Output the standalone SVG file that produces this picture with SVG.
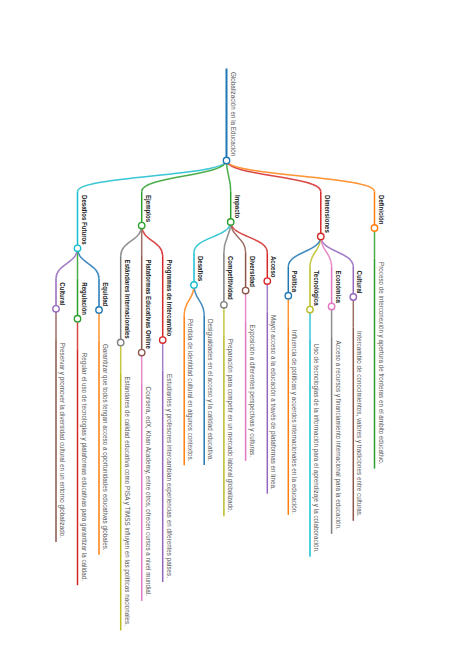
<svg xmlns="http://www.w3.org/2000/svg" width="474" height="669" viewBox="0 0 474 669">
<style>
.lk{fill:none;stroke-width:1.5}
.ln{stroke-width:1.5;fill:none}
.c{fill:#fff;stroke-width:1.4}
.t{font-family:"Liberation Sans",Arial,sans-serif;font-size:6.3px;fill:#555}
.b{font-family:"Liberation Sans",Arial,sans-serif;font-size:6.1px;font-weight:bold;fill:#222}
.k0{stroke:#1f77b4}.k1{stroke:#ff7f0e}.k2{stroke:#2ca02c}.k3{stroke:#d62728}.k4{stroke:#9467bd}
.k5{stroke:#8c564b}.k6{stroke:#e377c2}.k7{stroke:#7f7f7f}.k8{stroke:#bcbd22}.k9{stroke:#17becf}
</style>
<rect width="474" height="669" fill="#fff"/>
<g id="connectors" opacity="0.85">
<path class="lk k9" d="M226.5,160.5 C226.5,176 77.5,176 77.5,191.5"/>
<path class="lk k2" d="M226.5,160.5 C226.5,176 141.7,176 141.7,191.5"/>
<path class="lk k2" d="M226.5,160.5 C226.5,176 230.7,176 230.7,191.5"/>
<path class="lk k3" d="M226.5,160.5 C226.5,176 320.8,176 320.8,191.5"/>
<path class="lk k1" d="M226.5,160.5 C226.5,176 374.5,176 374.5,191.5"/>
<path class="lk k2" d="M374.5,228 L374.5,258.5"/>
<path class="lk k4" d="M320.8,236.5 C320.8,251.75 353.3,251.75 353.3,267"/>
<path class="lk k6" d="M320.8,236.5 C320.8,251.75 331.6,251.75 331.6,267"/>
<path class="lk k8" d="M320.8,236.5 C320.8,251.75 310,251.75 310,267"/>
<path class="lk k0" d="M320.8,236.5 C320.8,251.75 288.3,251.75 288.3,267"/>
<path class="lk k5" d="M353.3,297 L353.3,327.5"/>
<path class="lk k7" d="M331.6,306.5 L331.6,337"/>
<path class="lk k9" d="M310,309.6 L310,340.1"/>
<path class="lk k1" d="M288.3,295.7 L288.3,326.2"/>
<path class="lk k3" d="M230.7,221.9 C230.7,237.15 267.3,237.15 267.3,252.4"/>
<path class="lk k5" d="M230.7,221.9 C230.7,237.15 245.6,237.15 245.6,252.4"/>
<path class="lk k7" d="M230.7,221.9 C230.7,237.15 223.9,237.15 223.9,252.4"/>
<path class="lk k9" d="M230.7,221.9 C230.7,237.15 194,237.15 194,252.4"/>
<path class="lk k4" d="M267.3,281.1 L267.3,311.6"/>
<path class="lk k6" d="M245.6,290.6 L245.6,321.1"/>
<path class="lk k8" d="M223.9,304.8 L223.9,335.3"/>
<path class="lk k0" d="M194,284.9 C194,300.15 204.2,300.15 204.2,315.4"/>
<path class="lk k1" d="M194,284.9 C194,300.15 184.2,300.15 184.2,315.4"/>
<path class="lk k3" d="M141.7,225.6 C141.7,240.85 162.7,240.85 162.7,256.1"/>
<path class="lk k5" d="M141.7,225.6 L141.7,256.1"/>
<path class="lk k7" d="M141.7,225.6 C141.7,240.85 120.7,240.85 120.7,256.1"/>
<path class="lk k4" d="M162.7,340.1 L162.7,370.6"/>
<path class="lk k6" d="M141.7,352.6 L141.7,383.1"/>
<path class="lk k8" d="M120.7,342.4 L120.7,372.9"/>
<path class="lk k0" d="M77.5,248.3 C77.5,263.55 99,263.55 99,278.8"/>
<path class="lk k2" d="M77.5,248.3 L77.5,278.8"/>
<path class="lk k4" d="M77.5,248.3 C77.5,263.55 56,263.55 56,278.8"/>
<path class="lk k1" d="M99,309.9 L99,340.4"/>
<path class="lk k3" d="M77.5,318.7 L77.5,349.2"/>
<path class="lk k5" d="M56,308.8 L56,339.3"/>
</g>
<g id="root">
<line class="ln k0" x1="226.5" y1="68.5" x2="226.5" y2="160.5" style="stroke-width:2"/>
<text class="t" transform="translate(230.5,72) rotate(90) scale(1,1.2)">Globalización en la Educación</text>
<circle class="c k0" cx="226.5" cy="160.5" r="3.2"/>
</g>
<g id="definicion">
<line class="ln k1" x1="374.5" y1="191.5" x2="374.5" y2="228"/>
<text class="b" transform="translate(378.5,195) rotate(90) scale(1,1.2)">Definición</text>
<circle class="c k1" cx="374.5" cy="228" r="3.2"/>
</g>
<g id="definicion-leaf">
<line class="ln k2" x1="374.5" y1="258.5" x2="374.5" y2="468.6"/>
<text class="t" transform="translate(378.5,262) rotate(90) scale(1,1.2)">Proceso de interconexión y apertura de fronteras en el ámbito educativo.</text>
</g>
<g id="dimensiones">
<line class="ln k3" x1="320.8" y1="191.5" x2="320.8" y2="236.5"/>
<text class="b" transform="translate(324.8,195) rotate(90) scale(1,1.2)">Dimensiones</text>
<circle class="c k3" cx="320.8" cy="236.5" r="3.2"/>
</g>
<g id="dim-cultural">
<line class="ln k4" x1="353.3" y1="267" x2="353.3" y2="297"/>
<text class="b" transform="translate(357.3,270.5) rotate(90) scale(1,1.2)">Cultural</text>
<circle class="c k4" cx="353.3" cy="297" r="3.2"/>
</g>
<g id="dim-cultural-leaf">
<line class="ln k5" x1="353.3" y1="327.5" x2="353.3" y2="520.8"/>
<text class="t" transform="translate(357.3,331) rotate(90) scale(1,1.2)">Intercambio de conocimientos, valores y tradiciones entre culturas.</text>
</g>
<g id="dim-economica">
<line class="ln k6" x1="331.6" y1="267" x2="331.6" y2="306.5"/>
<text class="b" transform="translate(335.6,270.5) rotate(90) scale(1,1.2)">Económica</text>
<circle class="c k6" cx="331.6" cy="306.5" r="3.2"/>
</g>
<g id="dim-economica-leaf">
<line class="ln k7" x1="331.6" y1="337" x2="331.6" y2="533.8"/>
<text class="t" transform="translate(335.6,340.5) rotate(90) scale(1,1.2)">Acceso a recursos y financiamiento internacional para la educación.</text>
</g>
<g id="dim-tecnologica">
<line class="ln k8" x1="310" y1="267" x2="310" y2="309.6"/>
<text class="b" transform="translate(314,270.5) rotate(90) scale(1,1.2)">Tecnológica</text>
<circle class="c k8" cx="310" cy="309.6" r="3.2"/>
</g>
<g id="dim-tecnologica-leaf">
<line class="ln k9" x1="310" y1="340.1" x2="310" y2="556.8"/>
<text class="t" transform="translate(314,343.6) rotate(90) scale(1,1.2)">Uso de tecnologías de la información para el aprendizaje y la colaboración.</text>
</g>
<g id="dim-politica">
<line class="ln k0" x1="288.3" y1="267" x2="288.3" y2="295.7"/>
<text class="b" transform="translate(292.3,270.5) rotate(90) scale(1,1.2)">Política</text>
<circle class="c k0" cx="288.3" cy="295.7" r="3.2"/>
</g>
<g id="dim-politica-leaf">
<line class="ln k1" x1="288.3" y1="326.2" x2="288.3" y2="514.9"/>
<text class="t" transform="translate(292.3,329.7) rotate(90) scale(1,1.2)">Influencia de políticas y acuerdos internacionales en la educación.</text>
</g>
<g id="impacto">
<line class="ln k2" x1="230.7" y1="191.5" x2="230.7" y2="221.9"/>
<text class="b" transform="translate(234.7,195) rotate(90) scale(1,1.2)">Impacto</text>
<circle class="c k2" cx="230.7" cy="221.9" r="3.2"/>
</g>
<g id="imp-acceso">
<line class="ln k3" x1="267.3" y1="252.4" x2="267.3" y2="281.1"/>
<text class="b" transform="translate(271.3,255.9) rotate(90) scale(1,1.2)">Acceso</text>
<circle class="c k3" cx="267.3" cy="281.1" r="3.2"/>
</g>
<g id="imp-acceso-leaf">
<line class="ln k4" x1="267.3" y1="311.6" x2="267.3" y2="493.7"/>
<text class="t" transform="translate(271.3,315.1) rotate(90) scale(1,1.2)">Mayor acceso a la educación a través de plataformas en línea.</text>
</g>
<g id="imp-diversidad">
<line class="ln k5" x1="245.6" y1="252.4" x2="245.6" y2="290.6"/>
<text class="b" transform="translate(249.6,255.9) rotate(90) scale(1,1.2)">Diversidad</text>
<circle class="c k5" cx="245.6" cy="290.6" r="3.2"/>
</g>
<g id="imp-diversidad-leaf">
<line class="ln k6" x1="245.6" y1="321.1" x2="245.6" y2="460.8"/>
<text class="t" transform="translate(249.6,324.6) rotate(90) scale(1,1.2)">Exposición a diferentes perspectivas y culturas.</text>
</g>
<g id="imp-competitividad">
<line class="ln k7" x1="223.9" y1="252.4" x2="223.9" y2="304.8"/>
<text class="b" transform="translate(227.9,255.9) rotate(90) scale(1,1.2)">Competitividad</text>
<circle class="c k7" cx="223.9" cy="304.8" r="3.2"/>
</g>
<g id="imp-competitividad-leaf">
<line class="ln k8" x1="223.9" y1="335.3" x2="223.9" y2="516.3"/>
<text class="t" transform="translate(227.9,338.8) rotate(90) scale(1,1.2)">Preparación para competir en un mercado laboral globalizado.</text>
</g>
<g id="imp-desafios">
<line class="ln k9" x1="194" y1="252.4" x2="194" y2="284.9"/>
<text class="b" transform="translate(198,255.9) rotate(90) scale(1,1.2)">Desafíos</text>
<circle class="c k9" cx="194" cy="284.9" r="3.2"/>
</g>
<g id="imp-desafios-leaf1">
<line class="ln k0" x1="204.2" y1="315.4" x2="204.2" y2="464.9"/>
<text class="t" transform="translate(208.2,318.9) rotate(90) scale(1,1.2)">Desigualdades en el acceso y la calidad educativa.</text>
</g>
<g id="imp-desafios-leaf2">
<line class="ln k1" x1="184.2" y1="315.4" x2="184.2" y2="465.3"/>
<text class="t" transform="translate(188.2,318.9) rotate(90) scale(1,1.2)">Pérdida de identidad cultural en algunos contextos.</text>
</g>
<g id="ejemplos">
<line class="ln k2" x1="141.7" y1="191.5" x2="141.7" y2="225.6"/>
<text class="b" transform="translate(145.7,195) rotate(90) scale(1,1.2)">Ejemplos</text>
<circle class="c k2" cx="141.7" cy="225.6" r="3.2"/>
</g>
<g id="ej-programas">
<line class="ln k3" x1="162.7" y1="256.1" x2="162.7" y2="340.1"/>
<text class="b" transform="translate(166.7,259.6) rotate(90) scale(1,1.2)">Programas de Intercambio</text>
<circle class="c k3" cx="162.7" cy="340.1" r="3.2"/>
</g>
<g id="ej-programas-leaf">
<line class="ln k4" x1="162.7" y1="370.6" x2="162.7" y2="582.1"/>
<text class="t" transform="translate(166.7,374.1) rotate(90) scale(1,1.2)">Estudiantes y profesores intercambian experiencias en diferentes países.</text>
</g>
<g id="ej-plataformas">
<line class="ln k5" x1="141.7" y1="256.1" x2="141.7" y2="352.6"/>
<text class="b" transform="translate(145.7,259.6) rotate(90) scale(1,1.2)">Plataformas Educativas Online</text>
<circle class="c k5" cx="141.7" cy="352.6" r="3.2"/>
</g>
<g id="ej-plataformas-leaf">
<line class="ln k6" x1="141.7" y1="383.1" x2="141.7" y2="600.9"/>
<text class="t" transform="translate(145.7,386.6) rotate(90) scale(1,1.2)">Coursera, edX, Khan Academy, entre otros, ofrecen cursos a nivel mundial.</text>
</g>
<g id="ej-estandares">
<line class="ln k7" x1="120.7" y1="256.1" x2="120.7" y2="342.4"/>
<text class="b" transform="translate(124.7,259.6) rotate(90) scale(1,1.2)">Estándares Internacionales</text>
<circle class="c k7" cx="120.7" cy="342.4" r="3.2"/>
</g>
<g id="ej-estandares-leaf">
<line class="ln k8" x1="120.7" y1="372.9" x2="120.7" y2="630.6"/>
<text class="t" transform="translate(124.7,376.4) rotate(90) scale(1,1.2)">Estándares de calidad educativa como PISA y TIMSS influyen en las políticas nacionales.</text>
</g>
<g id="desafios-futuros">
<line class="ln k9" x1="77.5" y1="191.5" x2="77.5" y2="248.3"/>
<text class="b" transform="translate(81.5,195) rotate(90) scale(1,1.2)">Desafíos Futuros</text>
<circle class="c k9" cx="77.5" cy="248.3" r="3.2"/>
</g>
<g id="df-equidad">
<line class="ln k0" x1="99" y1="278.8" x2="99" y2="309.9"/>
<text class="b" transform="translate(103,282.3) rotate(90) scale(1,1.2)">Equidad</text>
<circle class="c k0" cx="99" cy="309.9" r="3.2"/>
</g>
<g id="df-equidad-leaf">
<line class="ln k1" x1="99" y1="340.4" x2="99" y2="554.7"/>
<text class="t" transform="translate(103,343.9) rotate(90) scale(1,1.2)">Garantizar que todos tengan acceso a oportunidades educativas globales.</text>
</g>
<g id="df-regulacion">
<line class="ln k2" x1="77.5" y1="278.8" x2="77.5" y2="318.7"/>
<text class="b" transform="translate(81.5,282.3) rotate(90) scale(1,1.2)">Regulación</text>
<circle class="c k2" cx="77.5" cy="318.7" r="3.2"/>
</g>
<g id="df-regulacion-leaf">
<line class="ln k3" x1="77.5" y1="349.2" x2="77.5" y2="585.2"/>
<text class="t" transform="translate(81.5,352.7) rotate(90) scale(1,1.2)">Regular el uso de tecnologías y plataformas educativas para garantizar la calidad.</text>
</g>
<g id="df-cultural">
<line class="ln k4" x1="56" y1="278.8" x2="56" y2="308.8"/>
<text class="b" transform="translate(60,282.3) rotate(90) scale(1,1.2)">Cultural</text>
<circle class="c k4" cx="56" cy="308.8" r="3.2"/>
</g>
<g id="df-cultural-leaf">
<line class="ln k5" x1="56" y1="339.3" x2="56" y2="542"/>
<text class="t" transform="translate(60,342.8) rotate(90) scale(1,1.2)">Preservar y promover la diversidad cultural en un entorno globalizado.</text>
</g>
</svg>
